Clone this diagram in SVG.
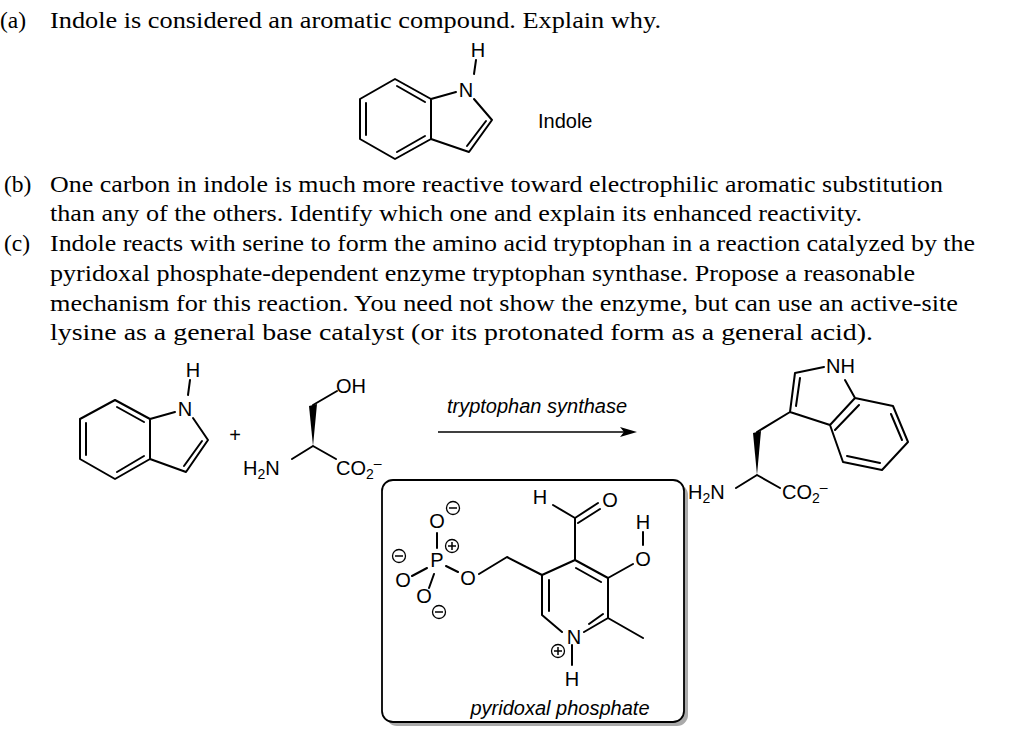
<svg xmlns="http://www.w3.org/2000/svg" width="1024" height="745" viewBox="0 0 1024 745">
<style>
.t{font-family:"Liberation Serif",serif;font-size:23.5px;fill:#000}
.s{font-family:"Liberation Sans",Arial,sans-serif;font-size:20px;fill:#000}
.i{font-style:italic}
.b{stroke:#000;stroke-width:2;fill:none;stroke-linecap:round;stroke-linejoin:round}
.c{stroke:#000;stroke-width:1.3;fill:#fff}
</style>
<rect width="1024" height="745" fill="#fff"/>
<g id="text">
<text class="t" x="0" y="28">(a)</text><text class="t" x="50" y="28" textLength="611" lengthAdjust="spacingAndGlyphs">Indole is considered an aromatic compound.  Explain why.</text>
<text class="t" x="4" y="192">(b)</text><text class="t" x="50" y="192" textLength="893" lengthAdjust="spacingAndGlyphs">One carbon in indole is much more reactive toward electrophilic aromatic substitution</text>
<text class="t" x="50" y="221" textLength="812" lengthAdjust="spacingAndGlyphs">than any of the others.  Identify which one and explain its enhanced reactivity.</text>
<text class="t" x="4" y="251">(c)</text><text class="t" x="50" y="251" textLength="925" lengthAdjust="spacingAndGlyphs">Indole reacts with serine to form the amino acid tryptophan in a reaction catalyzed by the</text>
<text class="t" x="50" y="281" textLength="865" lengthAdjust="spacingAndGlyphs">pyridoxal phosphate-dependent enzyme tryptophan synthase.  Propose a reasonable</text>
<text class="t" x="50" y="311" textLength="908" lengthAdjust="spacingAndGlyphs">mechanism for this reaction.  You need not show the enzyme, but can use an active-site</text>
<text class="t" x="50" y="340" textLength="823" lengthAdjust="spacingAndGlyphs">lysine as a general base catalyst (or its protonated form as a general acid).</text>
</g>
<g id="indole-a">
<path class="b" d="M395,79 L360,99 L360,139 L395,159 L431,139 L431,99 Z M366,103 L366,135 M397,86 L425,102 M397,152 L425,136 M431,99 L456,92 M474,99 L492,120 L469,152 L431,139 M486,121 L467,146 M476,60 L474,74"/>
<text class="s" x="466" y="97" text-anchor="middle">N</text>
<text class="s" x="478" y="57" text-anchor="middle">H</text>
<text class="s" x="538" y="128">Indole</text>
</g>
<g id="indole-c">
<path class="b" d="M115,400 L80,419 L80,459 L115,479 L150,459 L150,419 Z M86,423 L86,455 M117,407 L144,422 M117,472 L144,456 M150,419 L175,412 M193,418 L208,440 L186,472 L150,459 M202,441 L184,466 M190,380 L188,395"/>
<text class="s" x="185" y="416" text-anchor="middle">N</text>
<text class="s" x="193" y="377" text-anchor="middle">H</text>
<text class="s" x="235" y="442" text-anchor="middle">+</text>
</g>
<g id="serine">
<polygon points="313,446 309,406 317,404" fill="#000"/>
<path class="b" d="M313,405 L337,391 M313,446 L292,459 M313,446 L336,459"/>
<text class="s" x="336" y="393">OH</text>
<text class="s" x="243" y="475">H<tspan font-size="14" dy="4">2</tspan><tspan dy="-4">N</tspan></text>
<text class="s" x="336" y="475">CO<tspan font-size="14" dy="4">2</tspan><tspan font-size="14" dy="-11">–</tspan></text>
</g>
<g id="connectors">
<line x1="438" y1="432" x2="626" y2="432" stroke="#000" stroke-width="1.5"/>
<polygon points="637,432 620,427 624,432 620,437" fill="#000"/>
<text class="s i" x="537" y="413" text-anchor="middle" font-size="21">tryptophan synthase</text>
</g>
<g id="tryptophan">
<path class="b" d="M824,367 L795,373 L790,412 L830,425 L855,398 L845,380 M800,378 L796,406 M855,398 L893,406 L908,442 L882,470 L843,462 L830,425 M859,405 L835,430 M891,414 L902,440 M880,463 L847,456 M790,412 L757,432 M757,475 L736,488 M757,475 L780,488"/>
<polygon points="757,475 753,433 761,431" fill="#000"/>
<text class="s" x="826" y="373">NH</text>
<text class="s" x="688" y="499">H<tspan font-size="14" dy="4">2</tspan><tspan dy="-4">N</tspan></text>
<text class="s" x="782" y="499">CO<tspan font-size="14" dy="4">2</tspan><tspan font-size="14" dy="-11">–</tspan></text>
</g>
<g id="plp">
<rect x="386" y="484" width="302" height="242" rx="11" fill="#aaa"/>
<rect x="382" y="480" width="302" height="242" rx="11" fill="#fff" stroke="#000" stroke-width="1.8"/>
<path class="b" d="M575,560 L608,578 L608,618 L584,632 M562,632 L542,615 L542,575 L575,560 M576,568 L601,582 M549,580 L549,611 M589,624 L603,614 M575,560 L575,518 L598,503 M578,523 L600,509 M575,518 L553,505 M608,578 L633,564 M643,545 L643,532 M608,618 L643,638 M542,575 L507,557 L479,574 M458,572 L446,566 M437,548 L437,533 M427,568 L412,576 M434,574 L429,588 M572,645 L572,665"/>
<text class="s" x="610" y="507" text-anchor="middle">O</text>
<text class="s" x="540" y="504" text-anchor="middle">H</text>
<text class="s" x="643" y="566" text-anchor="middle">O</text>
<text class="s" x="643" y="529" text-anchor="middle">H</text>
<text class="s" x="574" y="644" text-anchor="middle">N</text>
<text class="s" x="572" y="686" text-anchor="middle">H</text>
<text class="s" x="468" y="585" text-anchor="middle">O</text>
<text class="s" x="437" y="567" text-anchor="middle">P</text>
<text class="s" x="437" y="528" text-anchor="middle">O</text>
<text class="s" x="403" y="587" text-anchor="middle">O</text>
<text class="s" x="424" y="603" text-anchor="middle">O</text>
<g id="charges">
<circle class="c" cx="453" cy="508" r="6.5"/><line x1="449" y1="508" x2="457" y2="508" stroke="#000" stroke-width="1.5"/>
<circle class="c" cx="452" cy="546" r="6.5"/><path d="M448,546 H456 M452,542 V550" stroke="#000" stroke-width="1.5"/>
<circle class="c" cx="399" cy="556" r="6.5"/><line x1="395" y1="556" x2="403" y2="556" stroke="#000" stroke-width="1.5"/>
<circle class="c" cx="439" cy="612" r="6.5"/><line x1="435" y1="612" x2="443" y2="612" stroke="#000" stroke-width="1.5"/>
<circle class="c" cx="558" cy="651" r="6.5"/><path d="M554,651 H562 M558,647 V655" stroke="#000" stroke-width="1.5"/>
</g>
<text class="s i" x="560" y="715" text-anchor="middle">pyridoxal phosphate</text>
</g>
</svg>
